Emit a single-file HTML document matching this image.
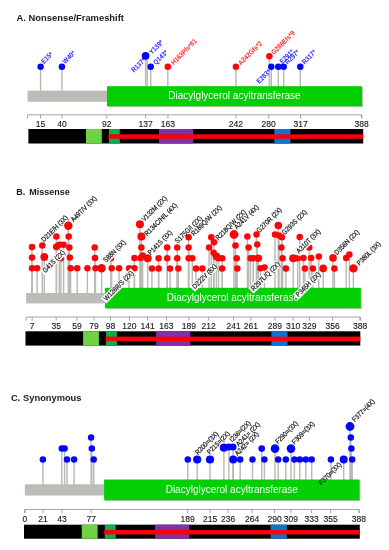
<!DOCTYPE html>
<html><head><meta charset="utf-8"><title>Diacylglycerol acyltransferase variants</title>
<style>
html,body{margin:0;padding:0;background:#fff}
svg{display:block}
text{font-family:"Liberation Sans","DejaVu Sans",sans-serif}
.ttl{font-size:9.4px;font-weight:bold;fill:#1a1a1a}
.dom{font-size:10px;fill:#fff;text-anchor:middle}
.tk{font-size:9.3px;fill:#151515;stroke:#151515;stroke-width:0.12px;text-anchor:middle}
.lb{font-size:7px;stroke:#111;stroke-width:0.2px}
.lbb{font-size:7px;font-weight:bold;fill-opacity:0.88}
.st{stroke:#b8bab4;stroke-width:1.45}
.ax{stroke:#808080;stroke-width:0.7;fill:none}
</style></head><body>
<svg width="389" height="550" viewBox="0 0 389 550">
<defs><filter id="sh" x="-5%" y="-30%" width="110%" height="160%"><feGaussianBlur stdDeviation="0.7"/></filter></defs>
<rect width="389" height="550" fill="#fff"/>
<text y="21.3" class="ttl" style="font-size:9.4px"><tspan x="16.5">A.</tspan> <tspan x="28.6">Nonsense/Frameshift</tspan></text>
<line x1="40.6" y1="66.7" x2="40.6" y2="92.6" class="st"/>
<line x1="61.9" y1="66.7" x2="61.9" y2="92.6" class="st"/>
<line x1="147.2" y1="60" x2="147.2" y2="92.6" class="st"/>
<line x1="145.6" y1="55.8" x2="145.6" y2="92.6" class="st"/>
<line x1="150.7" y1="66.7" x2="150.7" y2="92.6" class="st"/>
<line x1="167.8" y1="66.7" x2="167.8" y2="92.6" class="st"/>
<line x1="235.9" y1="66.7" x2="235.9" y2="92.6" class="st"/>
<line x1="269.4" y1="56.3" x2="269.4" y2="92.6" class="st"/>
<line x1="271.3" y1="66.7" x2="271.3" y2="92.6" class="st"/>
<line x1="278.3" y1="66.7" x2="278.3" y2="92.6" class="st"/>
<line x1="283.7" y1="66.7" x2="283.7" y2="92.6" class="st"/>
<line x1="300.3" y1="66.7" x2="300.3" y2="92.6" class="st"/>
<rect x="27.6" y="90.6" width="81.4" height="11.2" fill="#babdb6"/>
<rect x="107.9" y="87.1" width="255" height="20" fill="#bdbdbd" filter="url(#sh)"/>
<rect x="107" y="86.2" width="255" height="20" fill="#02d005"/>
<text x="234.5" y="99.4" class="dom">Diacylglycerol acyltransferase</text>
<circle cx="40.6" cy="66.7" r="3.25" fill="#0505fb"/>
<circle cx="61.9" cy="66.7" r="3.25" fill="#0505fb"/>
<circle cx="147.2" cy="60" r="0.1" fill="#0505fb"/>
<circle cx="145.6" cy="55.8" r="3.9" fill="#0505fb"/>
<circle cx="150.7" cy="66.7" r="3.25" fill="#0505fb"/>
<circle cx="167.8" cy="66.7" r="3.25" fill="#fd0408"/>
<circle cx="235.9" cy="66.7" r="3.25" fill="#fd0408"/>
<circle cx="269.4" cy="56.3" r="3.25" fill="#fd0408"/>
<circle cx="271.3" cy="66.7" r="3.25" fill="#0505fb"/>
<circle cx="278.3" cy="66.7" r="3.25" fill="#0505fb"/>
<circle cx="283.7" cy="66.7" r="3.25" fill="#0505fb"/>
<circle cx="300.3" cy="66.7" r="3.25" fill="#0505fb"/>
<path  d="M27.6 118.4V114.8H361.67V118.4" class="ax"/>
<line x1="40.52" y1="114.8" x2="40.52" y2="118.4" class="ax"/>
<text transform="translate(40.52 126.9) scale(0.92 1)" class="tk">15</text>
<line x1="62.04" y1="114.8" x2="62.04" y2="118.4" class="ax"/>
<text transform="translate(62.04 126.9) scale(0.92 1)" class="tk">40</text>
<line x1="106.81" y1="114.8" x2="106.81" y2="118.4" class="ax"/>
<text transform="translate(106.81 126.9) scale(0.92 1)" class="tk">92</text>
<line x1="145.56" y1="114.8" x2="145.56" y2="118.4" class="ax"/>
<text transform="translate(145.56 126.9) scale(0.92 1)" class="tk">137</text>
<line x1="167.94" y1="114.8" x2="167.94" y2="118.4" class="ax"/>
<text transform="translate(167.94 126.9) scale(0.92 1)" class="tk">163</text>
<line x1="235.96" y1="114.8" x2="235.96" y2="118.4" class="ax"/>
<text transform="translate(235.96 126.9) scale(0.92 1)" class="tk">242</text>
<line x1="268.68" y1="114.8" x2="268.68" y2="118.4" class="ax"/>
<text transform="translate(268.68 126.9) scale(0.92 1)" class="tk">280</text>
<line x1="300.54" y1="114.8" x2="300.54" y2="118.4" class="ax"/>
<text transform="translate(300.54 126.9) scale(0.92 1)" class="tk">317</text>
<line x1="361.67" y1="114.8" x2="361.67" y2="118.4" class="ax"/>
<text transform="translate(361.67 126.9) scale(0.92 1)" class="tk">388</text>
<rect x="28.4" y="129" width="334.8" height="14.5" fill="#000"/>
<rect x="86" y="129" width="15.8" height="14.5" fill="#6ed242"/>
<rect x="109" y="129" width="10.8" height="14.5" fill="#08b248"/>
<rect x="159" y="129" width="34.2" height="14.5" fill="#8030a8"/>
<rect x="274.3" y="129" width="16.1" height="14.5" fill="#0d74d4"/>
<rect x="108.4" y="134.3" width="254.8" height="4.5" fill="#fb0007"/>
<g transform="translate(43.8 63.9) rotate(-45)"><text class="lbb" fill="#0505fb" transform="translate(0 0.35) scale(0.88 1)" text-anchor="start">E15*</text></g>
<g transform="translate(65.1 63.9) rotate(-45)"><text class="lbb" fill="#0505fb" transform="translate(0 0.35) scale(0.88 1)" text-anchor="start">W40*</text></g>
<g transform="translate(145.9 60.5) rotate(-45)"><text class="lbb" fill="#0505fb" transform="translate(0 0.35) scale(0.88 1)" text-anchor="end">R137*</text></g>
<g transform="translate(151.7 54.5) rotate(-45)"><text class="lbb" fill="#0505fb" transform="translate(0 0.35) scale(0.88 1)" text-anchor="start">Y139*</text></g>
<g transform="translate(155.7 65) rotate(-45)"><text class="lbb" fill="#0505fb" transform="translate(0 0.35) scale(0.88 1)" text-anchor="start">Q143*</text></g>
<g transform="translate(173.5 65.1) rotate(-45)"><text class="lbb" fill="#fd0408" transform="translate(0 0.35) scale(0.88 1)" text-anchor="start">H163Pfs*81</text></g>
<g transform="translate(240.7 65.5) rotate(-45)"><text class="lbb" fill="#fd0408" transform="translate(0 0.35) scale(0.88 1)" text-anchor="start">A242Gfs*2</text></g>
<g transform="translate(273.7 54.8) rotate(-45)"><text class="lbb" fill="#fd0408" transform="translate(0 0.35) scale(0.88 1)" text-anchor="start">G286Efs*9</text></g>
<g transform="translate(270.9 72) rotate(-45)"><text class="lbb" fill="#0505fb" transform="translate(0 0.35) scale(0.88 1)" text-anchor="end">E283*</text></g>
<g transform="translate(282.2 64) rotate(-45)"><text class="lbb" fill="#0505fb" transform="translate(0 0.35) scale(0.88 1)" text-anchor="start">E291*</text></g>
<g transform="translate(287.6 64.5) rotate(-45)"><text class="lbb" fill="#0505fb" transform="translate(0 0.35) scale(0.88 1)" text-anchor="start">R297*</text></g>
<g transform="translate(304.4 64.5) rotate(-45)"><text class="lbb" fill="#0505fb" transform="translate(0 0.35) scale(0.88 1)" text-anchor="start">R317*</text></g>
<text y="195.4" class="ttl" style="font-size:9.0px"><tspan x="16.3">B.</tspan> <tspan x="29.2">Missense</tspan></text>
<line x1="32" y1="247.1" x2="32" y2="295" class="st"/>
<line x1="32" y1="257.5" x2="32" y2="295" class="st"/>
<line x1="32" y1="268.3" x2="32" y2="295" class="st"/>
<line x1="37.1" y1="268.3" x2="37.1" y2="295" class="st"/>
<line x1="42.3" y1="245.6" x2="42.3" y2="295" class="st"/>
<line x1="44.3" y1="257" x2="44.3" y2="295" class="st"/>
<line x1="56.4" y1="236.6" x2="56.4" y2="295" class="st"/>
<line x1="56.4" y1="246.7" x2="56.4" y2="295" class="st"/>
<line x1="59.3" y1="244.7" x2="59.3" y2="295" class="st"/>
<line x1="63.6" y1="244.7" x2="63.6" y2="295" class="st"/>
<line x1="60.9" y1="258.3" x2="60.9" y2="295" class="st"/>
<line x1="68.3" y1="225.8" x2="68.3" y2="295" class="st"/>
<line x1="68.7" y1="236.6" x2="68.7" y2="295" class="st"/>
<line x1="69.4" y1="247.5" x2="69.4" y2="295" class="st"/>
<line x1="69.8" y1="257.5" x2="69.8" y2="295" class="st"/>
<line x1="70.6" y1="268.3" x2="70.6" y2="295" class="st"/>
<line x1="77.2" y1="268.3" x2="77.2" y2="295" class="st"/>
<line x1="87.4" y1="268.3" x2="87.4" y2="295" class="st"/>
<line x1="94.7" y1="247.5" x2="94.7" y2="295" class="st"/>
<line x1="95" y1="258" x2="95" y2="295" class="st"/>
<line x1="95.5" y1="268.3" x2="95.5" y2="295" class="st"/>
<line x1="101.6" y1="268.3" x2="101.6" y2="295" class="st"/>
<line x1="110.9" y1="258.3" x2="110.9" y2="295" class="st"/>
<line x1="111.7" y1="268.3" x2="111.7" y2="295" class="st"/>
<line x1="119.1" y1="268.3" x2="119.1" y2="295" class="st"/>
<line x1="129.1" y1="268.3" x2="129.1" y2="295" class="st"/>
<line x1="134.4" y1="268.3" x2="134.4" y2="295" class="st"/>
<line x1="134.4" y1="258" x2="134.4" y2="295" class="st"/>
<line x1="139.9" y1="224.2" x2="139.9" y2="295" class="st"/>
<line x1="141.4" y1="236.4" x2="141.4" y2="295" class="st"/>
<line x1="141.4" y1="247.6" x2="141.4" y2="295" class="st"/>
<line x1="142.6" y1="255.5" x2="142.6" y2="295" class="st"/>
<line x1="140.5" y1="258" x2="140.5" y2="295" class="st"/>
<line x1="147.7" y1="258.2" x2="147.7" y2="295" class="st"/>
<line x1="151.9" y1="268.5" x2="151.9" y2="295" class="st"/>
<line x1="158.6" y1="258.2" x2="158.6" y2="295" class="st"/>
<line x1="158.6" y1="268.5" x2="158.6" y2="295" class="st"/>
<line x1="167.2" y1="247.6" x2="167.2" y2="295" class="st"/>
<line x1="167.2" y1="258.2" x2="167.2" y2="295" class="st"/>
<line x1="170.1" y1="268.5" x2="170.1" y2="295" class="st"/>
<line x1="177.2" y1="247.6" x2="177.2" y2="295" class="st"/>
<line x1="177.2" y1="258.2" x2="177.2" y2="295" class="st"/>
<line x1="178.3" y1="268.5" x2="178.3" y2="295" class="st"/>
<line x1="188.6" y1="237.3" x2="188.6" y2="295" class="st"/>
<line x1="188.6" y1="247.6" x2="188.6" y2="295" class="st"/>
<line x1="188.6" y1="258.2" x2="188.6" y2="295" class="st"/>
<line x1="192.3" y1="258.2" x2="192.3" y2="295" class="st"/>
<line x1="196" y1="268.5" x2="196" y2="295" class="st"/>
<line x1="202.4" y1="268.5" x2="202.4" y2="295" class="st"/>
<line x1="211.3" y1="237.3" x2="211.3" y2="295" class="st"/>
<line x1="209.1" y1="247.6" x2="209.1" y2="295" class="st"/>
<line x1="214" y1="242.2" x2="214" y2="295" class="st"/>
<line x1="213.6" y1="252.7" x2="213.6" y2="295" class="st"/>
<line x1="216.4" y1="256.4" x2="216.4" y2="295" class="st"/>
<line x1="218.5" y1="258.2" x2="218.5" y2="295" class="st"/>
<line x1="222.2" y1="258.2" x2="222.2" y2="295" class="st"/>
<line x1="222.2" y1="268.5" x2="222.2" y2="295" class="st"/>
<line x1="234" y1="234.5" x2="234" y2="295" class="st"/>
<line x1="235.5" y1="245.5" x2="235.5" y2="295" class="st"/>
<line x1="236.7" y1="258.2" x2="236.7" y2="295" class="st"/>
<line x1="237.3" y1="268.5" x2="237.3" y2="295" class="st"/>
<line x1="247.4" y1="236.4" x2="247.4" y2="295" class="st"/>
<line x1="248.6" y1="247.6" x2="248.6" y2="295" class="st"/>
<line x1="250.5" y1="258.2" x2="250.5" y2="295" class="st"/>
<line x1="253.2" y1="258.2" x2="253.2" y2="295" class="st"/>
<line x1="256.5" y1="234.5" x2="256.5" y2="295" class="st"/>
<line x1="257.2" y1="244.5" x2="257.2" y2="295" class="st"/>
<line x1="258.3" y1="258.2" x2="258.3" y2="295" class="st"/>
<line x1="260.5" y1="268.2" x2="260.5" y2="295" class="st"/>
<line x1="264.5" y1="267.6" x2="264.5" y2="295" class="st"/>
<line x1="275" y1="234.5" x2="275" y2="295" class="st"/>
<line x1="278.3" y1="225.5" x2="278.3" y2="295" class="st"/>
<line x1="279" y1="235.5" x2="279" y2="295" class="st"/>
<line x1="281.9" y1="237.3" x2="281.9" y2="295" class="st"/>
<line x1="281.4" y1="247.6" x2="281.4" y2="295" class="st"/>
<line x1="282.6" y1="258.2" x2="282.6" y2="295" class="st"/>
<line x1="285.9" y1="268.5" x2="285.9" y2="295" class="st"/>
<line x1="293.2" y1="258.2" x2="293.2" y2="295" class="st"/>
<line x1="297.7" y1="258.2" x2="297.7" y2="295" class="st"/>
<line x1="299.7" y1="237" x2="299.7" y2="295" class="st"/>
<line x1="309.2" y1="247.6" x2="309.2" y2="295" class="st"/>
<line x1="303.5" y1="257.9" x2="303.5" y2="295" class="st"/>
<line x1="311.2" y1="257.9" x2="311.2" y2="295" class="st"/>
<line x1="318.8" y1="256.4" x2="318.8" y2="295" class="st"/>
<line x1="304.9" y1="268.4" x2="304.9" y2="295" class="st"/>
<line x1="312.9" y1="268.4" x2="312.9" y2="295" class="st"/>
<line x1="323.2" y1="268.4" x2="323.2" y2="295" class="st"/>
<line x1="333" y1="257.9" x2="333" y2="295" class="st"/>
<line x1="334.4" y1="268.4" x2="334.4" y2="295" class="st"/>
<line x1="346.2" y1="257.9" x2="346.2" y2="295" class="st"/>
<line x1="349.4" y1="254.6" x2="349.4" y2="295" class="st"/>
<line x1="353.4" y1="268.4" x2="353.4" y2="295" class="st"/>
<rect x="26.1" y="293" width="80.9" height="10.4" fill="#babdb6"/>
<rect x="105.9" y="288.7" width="255.8" height="20.4" fill="#bdbdbd" filter="url(#sh)"/>
<rect x="105" y="287.8" width="255.8" height="20.4" fill="#02d005"/>
<text x="232.9" y="301.2" class="dom">Diacylglycerol acyltransferase</text>
<circle cx="32" cy="247.1" r="3.25" fill="#fd0408"/>
<circle cx="32" cy="257.5" r="3.25" fill="#fd0408"/>
<circle cx="32" cy="268.3" r="3.25" fill="#fd0408"/>
<circle cx="37.1" cy="268.3" r="3.25" fill="#fd0408"/>
<circle cx="42.3" cy="245.6" r="3.25" fill="#fd0408"/>
<circle cx="44.3" cy="257" r="3.9" fill="#fd0408"/>
<circle cx="56.4" cy="236.6" r="3.25" fill="#fd0408"/>
<circle cx="56.4" cy="246.7" r="3.5" fill="#fd0408"/>
<circle cx="59.3" cy="244.7" r="3.25" fill="#fd0408"/>
<circle cx="63.6" cy="244.7" r="3.25" fill="#fd0408"/>
<circle cx="60.9" cy="258.3" r="3.25" fill="#fd0408"/>
<circle cx="68.3" cy="225.8" r="4.2" fill="#fd0408"/>
<circle cx="68.7" cy="236.6" r="3.25" fill="#fd0408"/>
<circle cx="69.4" cy="247.5" r="3.25" fill="#fd0408"/>
<circle cx="69.8" cy="257.5" r="3.25" fill="#fd0408"/>
<circle cx="70.6" cy="268.3" r="3.25" fill="#fd0408"/>
<circle cx="77.2" cy="268.3" r="3.25" fill="#fd0408"/>
<circle cx="87.4" cy="268.3" r="3.25" fill="#fd0408"/>
<circle cx="94.7" cy="247.5" r="3.25" fill="#fd0408"/>
<circle cx="95" cy="258" r="3.25" fill="#fd0408"/>
<circle cx="95.5" cy="268.3" r="3.25" fill="#fd0408"/>
<circle cx="101.6" cy="268.3" r="4.2" fill="#fd0408"/>
<circle cx="110.9" cy="258.3" r="3.25" fill="#fd0408"/>
<circle cx="111.7" cy="268.3" r="3.25" fill="#fd0408"/>
<circle cx="119.1" cy="268.3" r="3.25" fill="#fd0408"/>
<circle cx="129.1" cy="268.3" r="3.25" fill="#fd0408"/>
<circle cx="134.4" cy="268.3" r="3.25" fill="#fd0408"/>
<circle cx="134.4" cy="258" r="3.25" fill="#fd0408"/>
<circle cx="139.9" cy="224.2" r="4" fill="#fd0408"/>
<circle cx="141.4" cy="236.4" r="4" fill="#fd0408"/>
<circle cx="141.4" cy="247.6" r="3.25" fill="#fd0408"/>
<circle cx="142.6" cy="255.5" r="3.25" fill="#fd0408"/>
<circle cx="140.5" cy="258" r="3.25" fill="#fd0408"/>
<circle cx="147.7" cy="258.2" r="4" fill="#fd0408"/>
<circle cx="151.9" cy="268.5" r="3.25" fill="#fd0408"/>
<circle cx="158.6" cy="258.2" r="3.25" fill="#fd0408"/>
<circle cx="158.6" cy="268.5" r="3.25" fill="#fd0408"/>
<circle cx="167.2" cy="247.6" r="3.25" fill="#fd0408"/>
<circle cx="167.2" cy="258.2" r="3.25" fill="#fd0408"/>
<circle cx="170.1" cy="268.5" r="3.25" fill="#fd0408"/>
<circle cx="177.2" cy="247.6" r="3.25" fill="#fd0408"/>
<circle cx="177.2" cy="258.2" r="3.25" fill="#fd0408"/>
<circle cx="178.3" cy="268.5" r="3.25" fill="#fd0408"/>
<circle cx="188.6" cy="237.3" r="3.25" fill="#fd0408"/>
<circle cx="188.6" cy="247.6" r="3.25" fill="#fd0408"/>
<circle cx="188.6" cy="258.2" r="3.25" fill="#fd0408"/>
<circle cx="192.3" cy="258.2" r="3.25" fill="#fd0408"/>
<circle cx="196" cy="268.5" r="3.25" fill="#fd0408"/>
<circle cx="202.4" cy="268.5" r="3.25" fill="#fd0408"/>
<circle cx="211.3" cy="237.3" r="3.25" fill="#fd0408"/>
<circle cx="209.1" cy="247.6" r="3.25" fill="#fd0408"/>
<circle cx="214" cy="242.2" r="3.25" fill="#fd0408"/>
<circle cx="213.6" cy="252.7" r="3.25" fill="#fd0408"/>
<circle cx="216.4" cy="256.4" r="3.8" fill="#fd0408"/>
<circle cx="218.5" cy="258.2" r="3.25" fill="#fd0408"/>
<circle cx="222.2" cy="258.2" r="3.25" fill="#fd0408"/>
<circle cx="222.2" cy="268.5" r="3.25" fill="#fd0408"/>
<circle cx="234" cy="234.5" r="4.4" fill="#fd0408"/>
<circle cx="235.5" cy="245.5" r="3.3" fill="#fd0408"/>
<circle cx="236.7" cy="258.2" r="3.3" fill="#fd0408"/>
<circle cx="237.3" cy="268.5" r="3.3" fill="#fd0408"/>
<circle cx="247.4" cy="236.4" r="3.25" fill="#fd0408"/>
<circle cx="248.6" cy="247.6" r="3.25" fill="#fd0408"/>
<circle cx="250.5" cy="258.2" r="3.25" fill="#fd0408"/>
<circle cx="253.2" cy="258.2" r="3.25" fill="#fd0408"/>
<circle cx="256.5" cy="234.5" r="3.25" fill="#fd0408"/>
<circle cx="257.2" cy="244.5" r="3.25" fill="#fd0408"/>
<circle cx="258.3" cy="258.2" r="3.8" fill="#fd0408"/>
<circle cx="260.5" cy="268.2" r="3.25" fill="#fd0408"/>
<circle cx="264.5" cy="267.6" r="3.25" fill="#fd0408"/>
<circle cx="275" cy="234.5" r="3.25" fill="#fd0408"/>
<circle cx="278.3" cy="225.5" r="3.8" fill="#fd0408"/>
<circle cx="279" cy="235.5" r="3.25" fill="#fd0408"/>
<circle cx="281.9" cy="237.3" r="3.25" fill="#fd0408"/>
<circle cx="281.4" cy="247.6" r="3.25" fill="#fd0408"/>
<circle cx="282.6" cy="258.2" r="3.25" fill="#fd0408"/>
<circle cx="285.9" cy="268.5" r="3.25" fill="#fd0408"/>
<circle cx="293.2" cy="258.2" r="4" fill="#fd0408"/>
<circle cx="297.7" cy="258.2" r="3.25" fill="#fd0408"/>
<circle cx="299.7" cy="237" r="3.25" fill="#fd0408"/>
<circle cx="309.2" cy="247.6" r="3.25" fill="#fd0408"/>
<circle cx="303.5" cy="257.9" r="3.25" fill="#fd0408"/>
<circle cx="311.2" cy="257.9" r="3.25" fill="#fd0408"/>
<circle cx="318.8" cy="256.4" r="3.25" fill="#fd0408"/>
<circle cx="304.9" cy="268.4" r="3.25" fill="#fd0408"/>
<circle cx="312.9" cy="268.4" r="3.25" fill="#fd0408"/>
<circle cx="323.2" cy="268.4" r="3.8" fill="#fd0408"/>
<circle cx="333" cy="257.9" r="3.8" fill="#fd0408"/>
<circle cx="334.4" cy="268.4" r="3.25" fill="#fd0408"/>
<circle cx="346.2" cy="257.9" r="3.25" fill="#fd0408"/>
<circle cx="349.4" cy="254.6" r="3.25" fill="#fd0408"/>
<circle cx="353.4" cy="268.4" r="4.2" fill="#fd0408"/>
<path  d="M26.1 320.6V317H360.17V320.6" class="ax"/>
<line x1="32.13" y1="317" x2="32.13" y2="320.6" class="ax"/>
<text transform="translate(32.13 329.1) scale(0.92 1)" class="tk">7</text>
<line x1="56.23" y1="317" x2="56.23" y2="320.6" class="ax"/>
<text transform="translate(56.23 329.1) scale(0.92 1)" class="tk">35</text>
<line x1="76.9" y1="317" x2="76.9" y2="320.6" class="ax"/>
<text transform="translate(76.9 329.1) scale(0.92 1)" class="tk">59</text>
<line x1="94.12" y1="317" x2="94.12" y2="320.6" class="ax"/>
<text transform="translate(94.12 329.1) scale(0.92 1)" class="tk">79</text>
<line x1="110.48" y1="317" x2="110.48" y2="320.6" class="ax"/>
<text transform="translate(110.48 329.1) scale(0.92 1)" class="tk">98</text>
<line x1="129.42" y1="317" x2="129.42" y2="320.6" class="ax"/>
<text transform="translate(129.42 329.1) scale(0.92 1)" class="tk">120</text>
<line x1="147.5" y1="317" x2="147.5" y2="320.6" class="ax"/>
<text transform="translate(147.5 329.1) scale(0.92 1)" class="tk">141</text>
<line x1="166.44" y1="317" x2="166.44" y2="320.6" class="ax"/>
<text transform="translate(166.44 329.1) scale(0.92 1)" class="tk">163</text>
<line x1="188.83" y1="317" x2="188.83" y2="320.6" class="ax"/>
<text transform="translate(188.83 329.1) scale(0.92 1)" class="tk">189</text>
<line x1="208.63" y1="317" x2="208.63" y2="320.6" class="ax"/>
<text transform="translate(208.63 329.1) scale(0.92 1)" class="tk">212</text>
<line x1="233.6" y1="317" x2="233.6" y2="320.6" class="ax"/>
<text transform="translate(233.6 329.1) scale(0.92 1)" class="tk">241</text>
<line x1="250.82" y1="317" x2="250.82" y2="320.6" class="ax"/>
<text transform="translate(250.82 329.1) scale(0.92 1)" class="tk">261</text>
<line x1="274.93" y1="317" x2="274.93" y2="320.6" class="ax"/>
<text transform="translate(274.93 329.1) scale(0.92 1)" class="tk">289</text>
<line x1="293.01" y1="317" x2="293.01" y2="320.6" class="ax"/>
<text transform="translate(293.01 329.1) scale(0.92 1)" class="tk">310</text>
<line x1="309.37" y1="317" x2="309.37" y2="320.6" class="ax"/>
<text transform="translate(309.37 329.1) scale(0.92 1)" class="tk">329</text>
<line x1="332.62" y1="317" x2="332.62" y2="320.6" class="ax"/>
<text transform="translate(332.62 329.1) scale(0.92 1)" class="tk">356</text>
<line x1="360.17" y1="317" x2="360.17" y2="320.6" class="ax"/>
<text transform="translate(360.17 329.1) scale(0.92 1)" class="tk">388</text>
<rect x="25.5" y="331.3" width="334.8" height="14.3" fill="#000"/>
<rect x="83.1" y="331.3" width="15.8" height="14.3" fill="#6ed242"/>
<rect x="106.1" y="331.3" width="10.8" height="14.3" fill="#08b248"/>
<rect x="156.1" y="331.3" width="34.2" height="14.3" fill="#8030a8"/>
<rect x="271.4" y="331.3" width="16.1" height="14.3" fill="#0d74d4"/>
<rect x="105.5" y="336.6" width="254.8" height="4.5" fill="#fb0007"/>
<g transform="translate(43.8 242.1) rotate(-45)"><text class="lb" fill="#111" transform="translate(0 0.35) scale(0.87 1)" text-anchor="start">D21E/H (3X)</text></g>
<g transform="translate(73.3 222.1) rotate(-45)"><text class="lb" fill="#111" transform="translate(0 0.35) scale(0.87 1)" text-anchor="start">A49T/V (3X)</text></g>
<g transform="translate(44.9 272.9) rotate(-45)"><rect x="-1.8" y="-5.7" width="31.2" height="7.7" fill="#fff" stroke="#c0c0c0" stroke-width="0.3"/><text class="lb" fill="#111" transform="translate(0 0.35) scale(0.87 1)" text-anchor="start">G41S (2X)</text></g>
<g transform="translate(105.8 262.6) rotate(-45)"><rect x="-1.8" y="-5.7" width="31.2" height="7.7" fill="#fff" stroke="#c0c0c0" stroke-width="0.3"/><text class="lb" fill="#111" transform="translate(0 0.35) scale(0.87 1)" text-anchor="start">S88N (3X)</text></g>
<g transform="translate(106.2 300.9) rotate(-45)"><rect x="-1.8" y="-5.7" width="42.2" height="7.7" fill="#fff" stroke="#c0c0c0" stroke-width="0.3"/><text class="lb" fill="#111" transform="translate(0 0.35) scale(0.87 1)" text-anchor="start">W126R/S (2X)</text></g>
<g transform="translate(144.2 221.6) rotate(-45)"><text class="lb" fill="#111" transform="translate(0 0.35) scale(0.87 1)" text-anchor="start">V132M (2X)</text></g>
<g transform="translate(146.9 236.1) rotate(-45)"><text class="lb" fill="#111" transform="translate(0 0.35) scale(0.87 1)" text-anchor="start">R134C/H/L (4X)</text></g>
<g transform="translate(150.3 255.1) rotate(-45)"><text class="lb" fill="#111" transform="translate(0 0.35) scale(0.87 1)" text-anchor="start">P141S (3X)</text></g>
<g transform="translate(177.3 243.6) rotate(-45)"><text class="lb" fill="#111" transform="translate(0 0.35) scale(0.87 1)" text-anchor="start">S175G/I (2X)</text></g>
<g transform="translate(193.8 236.1) rotate(-45)"><text class="lb" fill="#111" transform="translate(0 0.35) scale(0.87 1)" text-anchor="start">R189Q/W (2X)</text></g>
<g transform="translate(218.1 240.3) rotate(-45)"><text class="lb" fill="#111" transform="translate(0 0.35) scale(0.87 1)" text-anchor="start">R218Q/W (2X)</text></g>
<g transform="translate(236.8 229.6) rotate(-45)"><text class="lb" fill="#111" transform="translate(0 0.35) scale(0.87 1)" text-anchor="start">A241V (4X)</text></g>
<g transform="translate(194.8 289.1) rotate(-45)"><rect x="-1.8" y="-5.7" width="33.2" height="7.7" fill="#fff" stroke="#c0c0c0" stroke-width="0.3"/><text class="lb" fill="#111" transform="translate(0 0.35) scale(0.87 1)" text-anchor="start">D222V (8X)</text></g>
<g transform="translate(259.1 232.9) rotate(-45)"><text class="lb" fill="#111" transform="translate(0 0.35) scale(0.87 1)" text-anchor="start">G270R (2X)</text></g>
<g transform="translate(284.5 234.9) rotate(-45)"><text class="lb" fill="#111" transform="translate(0 0.35) scale(0.87 1)" text-anchor="start">G293S (2X)</text></g>
<g transform="translate(253.6 290.9) rotate(-45)"><rect x="-1.8" y="-5.7" width="39.2" height="7.7" fill="#fff" stroke="#c0c0c0" stroke-width="0.3"/><text class="lb" fill="#111" transform="translate(0 0.35) scale(0.87 1)" text-anchor="start">R297L/Q (2X)</text></g>
<g transform="translate(298.8 253.6) rotate(-45)"><rect x="-1.8" y="-5.7" width="32.2" height="7.7" fill="#fff" stroke="#c0c0c0" stroke-width="0.3"/><text class="lb" fill="#111" transform="translate(0 0.35) scale(0.87 1)" text-anchor="start">A310T (3X)</text></g>
<g transform="translate(336.8 255.1) rotate(-45)"><text class="lb" fill="#111" transform="translate(0 0.35) scale(0.87 1)" text-anchor="start">D356N (2X)</text></g>
<g transform="translate(359.3 265.6) rotate(-45)"><text class="lb" fill="#111" transform="translate(0 0.35) scale(0.87 1)" text-anchor="start">P380L (3X)</text></g>
<g transform="translate(298.3 297.1) rotate(-45)"><rect x="-1.8" y="-5.7" width="33.2" height="7.7" fill="#fff" stroke="#c0c0c0" stroke-width="0.3"/><text class="lb" fill="#111" transform="translate(0 0.35) scale(0.87 1)" text-anchor="start">P345H (2X)</text></g>
<text y="400.9" class="ttl" style="font-size:9.3px"><tspan x="10.9">C.</tspan> <tspan x="23.1">Synonymous</tspan></text>
<line x1="42.9" y1="459.5" x2="42.9" y2="486.3" class="st"/>
<line x1="61.8" y1="448.6" x2="61.8" y2="486.3" class="st"/>
<line x1="64.6" y1="448.6" x2="64.6" y2="486.3" class="st"/>
<line x1="67" y1="459.5" x2="67" y2="486.3" class="st"/>
<line x1="74.1" y1="459.5" x2="74.1" y2="486.3" class="st"/>
<line x1="91.1" y1="437.6" x2="91.1" y2="486.3" class="st"/>
<line x1="91.8" y1="448.6" x2="91.8" y2="486.3" class="st"/>
<line x1="93.7" y1="459.5" x2="93.7" y2="486.3" class="st"/>
<line x1="187.8" y1="459.5" x2="187.8" y2="486.3" class="st"/>
<line x1="197.2" y1="459.5" x2="197.2" y2="486.3" class="st"/>
<line x1="210" y1="459.5" x2="210" y2="486.3" class="st"/>
<line x1="223.9" y1="447.7" x2="223.9" y2="486.3" class="st"/>
<line x1="228.9" y1="446.9" x2="228.9" y2="486.3" class="st"/>
<line x1="233" y1="446.9" x2="233" y2="486.3" class="st"/>
<line x1="233.2" y1="459.5" x2="233.2" y2="486.3" class="st"/>
<line x1="240.2" y1="459.5" x2="240.2" y2="486.3" class="st"/>
<line x1="252.5" y1="459.5" x2="252.5" y2="486.3" class="st"/>
<line x1="261.7" y1="448.6" x2="261.7" y2="486.3" class="st"/>
<line x1="264.4" y1="459.5" x2="264.4" y2="486.3" class="st"/>
<line x1="275" y1="448.6" x2="275" y2="486.3" class="st"/>
<line x1="278.2" y1="459.5" x2="278.2" y2="486.3" class="st"/>
<line x1="285.8" y1="459.5" x2="285.8" y2="486.3" class="st"/>
<line x1="291" y1="448.6" x2="291" y2="486.3" class="st"/>
<line x1="294.4" y1="459.5" x2="294.4" y2="486.3" class="st"/>
<line x1="299.8" y1="459.5" x2="299.8" y2="486.3" class="st"/>
<line x1="305.8" y1="459.5" x2="305.8" y2="486.3" class="st"/>
<line x1="311.7" y1="459.5" x2="311.7" y2="486.3" class="st"/>
<line x1="330.9" y1="459.5" x2="330.9" y2="486.3" class="st"/>
<line x1="343.7" y1="459.5" x2="343.7" y2="486.3" class="st"/>
<line x1="352.2" y1="459.5" x2="352.2" y2="486.3" class="st"/>
<line x1="351.4" y1="448.6" x2="351.4" y2="486.3" class="st"/>
<line x1="350.8" y1="437.6" x2="350.8" y2="486.3" class="st"/>
<line x1="350" y1="426.5" x2="350" y2="486.3" class="st"/>
<rect x="24.9" y="484.3" width="81.2" height="11.2" fill="#babdb6"/>
<rect x="105" y="480.4" width="255.4" height="20.7" fill="#bdbdbd" filter="url(#sh)"/>
<rect x="104.1" y="479.5" width="255.4" height="20.7" fill="#02d005"/>
<text x="231.8" y="493.05" class="dom">Diacylglycerol acyltransferase</text>
<circle cx="42.9" cy="459.5" r="3.25" fill="#0505fb"/>
<circle cx="61.8" cy="448.6" r="3.25" fill="#0505fb"/>
<circle cx="64.6" cy="448.6" r="3.25" fill="#0505fb"/>
<circle cx="67" cy="459.5" r="3.25" fill="#0505fb"/>
<circle cx="74.1" cy="459.5" r="3.25" fill="#0505fb"/>
<circle cx="91.1" cy="437.6" r="3.25" fill="#0505fb"/>
<circle cx="91.8" cy="448.6" r="3.25" fill="#0505fb"/>
<circle cx="93.7" cy="459.5" r="3.25" fill="#0505fb"/>
<circle cx="187.8" cy="459.5" r="3.25" fill="#0505fb"/>
<circle cx="197.2" cy="459.5" r="4.1" fill="#0505fb"/>
<circle cx="210" cy="459.5" r="4.1" fill="#0505fb"/>
<circle cx="223.9" cy="447.7" r="4.1" fill="#0505fb"/>
<circle cx="228.9" cy="446.9" r="3.5" fill="#0505fb"/>
<circle cx="233" cy="446.9" r="3.5" fill="#0505fb"/>
<circle cx="233.2" cy="459.5" r="4" fill="#0505fb"/>
<circle cx="240.2" cy="459.5" r="3.25" fill="#0505fb"/>
<circle cx="252.5" cy="459.5" r="3.25" fill="#0505fb"/>
<circle cx="261.7" cy="448.6" r="3.3" fill="#0505fb"/>
<circle cx="264.4" cy="459.5" r="3.25" fill="#0505fb"/>
<circle cx="275" cy="448.6" r="4.3" fill="#0505fb"/>
<circle cx="278.2" cy="459.5" r="3.25" fill="#0505fb"/>
<circle cx="285.8" cy="459.5" r="3.25" fill="#0505fb"/>
<circle cx="291" cy="448.6" r="4.3" fill="#0505fb"/>
<circle cx="294.4" cy="459.5" r="3.25" fill="#0505fb"/>
<circle cx="299.8" cy="459.5" r="3.25" fill="#0505fb"/>
<circle cx="305.8" cy="459.5" r="3.25" fill="#0505fb"/>
<circle cx="311.7" cy="459.5" r="3.25" fill="#0505fb"/>
<circle cx="330.9" cy="459.5" r="3.25" fill="#0505fb"/>
<circle cx="343.7" cy="459.5" r="4" fill="#0505fb"/>
<circle cx="352.2" cy="459.5" r="3.25" fill="#0505fb"/>
<circle cx="351.4" cy="448.6" r="3.25" fill="#0505fb"/>
<circle cx="350.8" cy="437.6" r="3.25" fill="#0505fb"/>
<circle cx="350" cy="426.5" r="4.4" fill="#0505fb"/>
<path  d="M24.9 513.1V509.5H358.97V513.1" class="ax"/>
<line x1="24.9" y1="509.5" x2="24.9" y2="513.1" class="ax"/>
<text transform="translate(24.9 521.6) scale(0.92 1)" class="tk">0</text>
<line x1="42.98" y1="509.5" x2="42.98" y2="513.1" class="ax"/>
<text transform="translate(42.98 521.6) scale(0.92 1)" class="tk">21</text>
<line x1="61.92" y1="509.5" x2="61.92" y2="513.1" class="ax"/>
<text transform="translate(61.92 521.6) scale(0.92 1)" class="tk">43</text>
<line x1="91.2" y1="509.5" x2="91.2" y2="513.1" class="ax"/>
<text transform="translate(91.2 521.6) scale(0.92 1)" class="tk">77</text>
<line x1="187.63" y1="509.5" x2="187.63" y2="513.1" class="ax"/>
<text transform="translate(187.63 521.6) scale(0.92 1)" class="tk">189</text>
<line x1="210.02" y1="509.5" x2="210.02" y2="513.1" class="ax"/>
<text transform="translate(210.02 521.6) scale(0.92 1)" class="tk">215</text>
<line x1="228.1" y1="509.5" x2="228.1" y2="513.1" class="ax"/>
<text transform="translate(228.1 521.6) scale(0.92 1)" class="tk">236</text>
<line x1="252.2" y1="509.5" x2="252.2" y2="513.1" class="ax"/>
<text transform="translate(252.2 521.6) scale(0.92 1)" class="tk">264</text>
<line x1="274.59" y1="509.5" x2="274.59" y2="513.1" class="ax"/>
<text transform="translate(274.59 521.6) scale(0.92 1)" class="tk">290</text>
<line x1="290.95" y1="509.5" x2="290.95" y2="513.1" class="ax"/>
<text transform="translate(290.95 521.6) scale(0.92 1)" class="tk">309</text>
<line x1="311.61" y1="509.5" x2="311.61" y2="513.1" class="ax"/>
<text transform="translate(311.61 521.6) scale(0.92 1)" class="tk">333</text>
<line x1="330.55" y1="509.5" x2="330.55" y2="513.1" class="ax"/>
<text transform="translate(330.55 521.6) scale(0.92 1)" class="tk">355</text>
<line x1="358.97" y1="509.5" x2="358.97" y2="513.1" class="ax"/>
<text transform="translate(358.97 521.6) scale(0.92 1)" class="tk">388</text>
<rect x="24" y="524.7" width="335.8" height="14" fill="#000"/>
<rect x="81.77" y="524.7" width="15.85" height="14" fill="#6ed242"/>
<rect x="104.84" y="524.7" width="10.83" height="14" fill="#08b248"/>
<rect x="154.99" y="524.7" width="34.3" height="14" fill="#8030a8"/>
<rect x="270.64" y="524.7" width="16.15" height="14" fill="#0d74d4"/>
<rect x="104.24" y="530" width="255.56" height="4.5" fill="#fb0007"/>
<g transform="translate(197.7 454.9) rotate(-45)"><text class="lb" fill="#111" transform="translate(0 0.35) scale(0.87 1)" text-anchor="start">R200=(3X)</text></g>
<g transform="translate(209.5 454.4) rotate(-45)"><text class="lb" fill="#111" transform="translate(0 0.35) scale(0.87 1)" text-anchor="start">P215=(2X)</text></g>
<g transform="translate(232 442.2) rotate(-45)"><text class="lb" fill="#111" transform="translate(0 0.35) scale(0.87 1)" text-anchor="start">I236=(2X)</text></g>
<g transform="translate(238.4 446.5) rotate(-45)"><text class="lb" fill="#111" transform="translate(0 0.35) scale(0.87 1)" text-anchor="start">A241= (2X)</text></g>
<g transform="translate(237.2 456.1) rotate(-45)"><text class="lb" fill="#111" transform="translate(0 0.35) scale(0.87 1)" text-anchor="start">A242= (2X)</text></g>
<g transform="translate(277.8 444.1) rotate(-45)"><text class="lb" fill="#111" transform="translate(0 0.35) scale(0.87 1)" text-anchor="start">F290=(3X)</text></g>
<g transform="translate(294.3 444.4) rotate(-45)"><text class="lb" fill="#111" transform="translate(0 0.35) scale(0.87 1)" text-anchor="start">F309=(3X)</text></g>
<g transform="translate(354.6 422.1) rotate(-45)"><text class="lb" fill="#111" transform="translate(0 0.35) scale(0.87 1)" text-anchor="start">F377=(4X)</text></g>
<g transform="translate(321.3 485.2) rotate(-45)"><text class="lb" fill="#111" transform="translate(0 0.35) scale(0.87 1)" text-anchor="start">F370=(3X)</text></g>
</svg>
</body></html>
